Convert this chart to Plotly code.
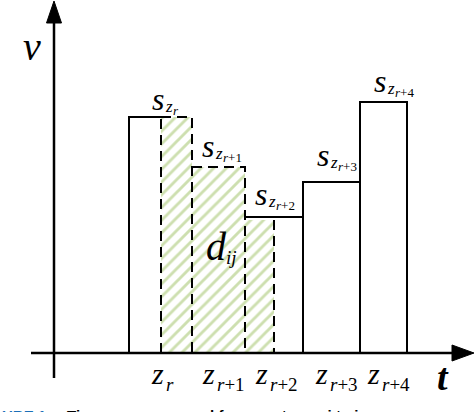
import plotly.graph_objects as go

# ---- data (abstract time / value units, origin at axis crossing) ----
zone_edges = [75, 107, 138, 191, 249, 306, 353]        # t boundaries of zones
zone_speed = [236, 236, 186, 136, 171, 251]             # v in each interval between edges
zone_labels = ["r", "r+1", "r+2", "r+3", "r+4"]          # z ticks at edges[1..5]
hatch_left = [107, 138, 191]
hatch_right = [138, 191, 220]
hatch_top = [236, 186, 133]
s_labels = ["r", "r+1", "r+2", "r+3", "r+4"]

W, H = 474, 412
X0, Y0 = 54, 353            # pixel position of origin
xr = [-X0, W - X0]
yr = [-(H - Y0), Y0]

FONT = "Liberation Serif"
fig = go.Figure()

# hatched travel region
fig.add_trace(go.Bar(
    x=[(a + b) / 2 for a, b in zip(hatch_left, hatch_right)],
    y=hatch_top,
    width=[b - a for a, b in zip(hatch_left, hatch_right)],
    marker=dict(color="white", line=dict(width=0),
                pattern=dict(shape="/", fgcolor="#9cc060", bgcolor="white",
                             size=9, solidity=0.32)),
    hoverinfo="skip", showlegend=False))

E, S = zone_edges, zone_speed
# solid outlines
solid_x = [E[0], E[0], E[1], None,
           E[3], E[4], E[4], E[5], E[5], E[6], E[6], None,
           E[4], E[4], None, E[5], E[5]]
solid_y = [0, S[0], S[0], None,
           S[3], S[3], S[4], S[4], S[5], S[5], 0, None,
           S[3], 0, None, S[4], 0]
fig.add_trace(go.Scatter(x=solid_x, y=solid_y, mode="lines",
                         line=dict(color="black", width=2),
                         hoverinfo="skip", showlegend=False))
# dashed outlines
dash_x = [E[1], E[1], None, E[1], E[2], E[2], None, E[2], E[3], E[3], None,
          hatch_right[2], hatch_right[2]]
dash_y = [0, S[1], None, S[1], S[1], 0, None, S[2], S[2], 0, None,
          hatch_top[2], 0]
fig.add_trace(go.Scatter(x=dash_x, y=dash_y, mode="lines",
                         line=dict(color="black", width=2, dash="10px,6px"),
                         hoverinfo="skip", showlegend=False))

# axes lines
fig.add_trace(go.Scatter(x=[-23, 400, None, 0, 0], y=[0, 0, None, -25, 330],
                         mode="lines", line=dict(color="black", width=2.5),
                         hoverinfo="skip", showlegend=False))
# arrow heads
fig.add_trace(go.Scatter(x=[398, 420, 398, 398], y=[8, 0, -8, 8], mode="lines",
                         fill="toself", fillcolor="black", line=dict(color="black", width=1),
                         hoverinfo="skip", showlegend=False))
fig.add_trace(go.Scatter(x=[-7.5, 0, 7.5, -7.5], y=[330, 352, 330, 330], mode="lines",
                         fill="toself", fillcolor="black", line=dict(color="black", width=1),
                         hoverinfo="skip", showlegend=False))

ann = []
def txt(x, y, s, size, xanchor="left", yanchor="middle", **kw):
    ann.append(dict(x=x, y=y, text=s, showarrow=False, xanchor=xanchor, yanchor=yanchor,
                    xref="x", yref="y",
                    font=dict(family=FONT, size=size, color="black"), **kw))

# axis titles
txt(-22, 307, "<i>v</i>", 40, xanchor="center")
txt(389, -24, "<b><i>t</i></b>", 38, xanchor="center")

# z tick labels
z_off = [-12, 8, 8, 10, 5]
for i, lab in enumerate(zone_labels):
    x = E[i + 1] + z_off[i]
    txt(x, -20, "<i>z</i>", 30)
    txt(x + 15, -31, "<i>%s</i>" % lab if lab == "r" else "<i>r</i>" + lab[1:], 19)

# s labels above each speed level
s_pos = [(E[1] - 11, S[0] + 18), (E[2] + 8, S[2] + 21), (E[3] + 8, S[3] + 23),
         (E[4] + 12, S[4] + 27), (E[5] + 12, S[5] + 21)]
for (x, y), lab in zip(s_pos, s_labels):
    txt(x, y, "<i>s</i>", 32)
    txt(x + 13, y - 7, "<i>z</i>", 17)
    txt(x + 21, y - 11, "<i>%s</i>" % lab if lab == "r" else "<i>r</i>" + lab[1:], 13)

# d_ij inside hatched area
txt(150, 107, "<i>d</i>", 40)
txt(170, 96, "<i>ij</i>", 19)

# caption (cut by bottom edge, as in the source)
CAP = "Liberation Sans Narrow, Liberation Sans, Arial, sans-serif"
ann.append(dict(x=52 - X0, y=-52, xref="x", yref="y", text="<b>FIGURE 1.</b>", showarrow=False,
                xanchor="right", yanchor="top",
                font=dict(family=CAP, size=15, color="#1a6fb8")))
ann.append(dict(x=65 - X0, y=-52, xref="x", yref="y",
                text="<b>Time zones spanned from customer i to j</b>", showarrow=False,
                xanchor="left", yanchor="top",
                font=dict(family=CAP, size=15, color="black")))

fig.update_layout(
    width=W, height=H, margin=dict(l=0, r=0, t=0, b=0),
    paper_bgcolor="white", plot_bgcolor="white",
    xaxis=dict(range=xr, visible=False, fixedrange=True),
    yaxis=dict(range=yr, visible=False, fixedrange=True),
    bargap=0, annotations=ann, showlegend=False)

fig.write_html("out.html", config={"displayModeBar": False},
               post_script="document.body.style.margin='0';document.body.style.overflow='hidden';")
